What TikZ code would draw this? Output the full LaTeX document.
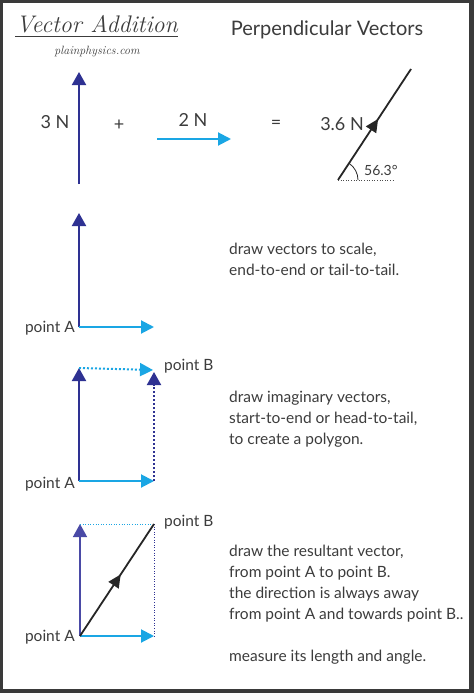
\documentclass[tikz,border=0pt]{standalone}
\usepackage{fontspec}
\setsansfont{Lato}
\usetikzlibrary{arrows.meta,decorations.markings}
\definecolor{vnavy}{HTML}{2E3192}
\definecolor{vnavyl}{HTML}{4A4AA6}
\definecolor{vcyan}{HTML}{1AA6E4}
\definecolor{framegray}{HTML}{3A3A3A}
\definecolor{txt}{HTML}{3C3C3C}

\begin{document}
\begin{tikzpicture}[x=1pt, y=-1pt,
  lab/.style={font=\sffamily\fontsize{15.5}{21}\selectfont, text=txt, inner sep=0pt},
  note/.style={lab, anchor=north west, align=left},
  big/.style={font=\sffamily\fontsize{18}{22}\selectfont, text=txt, inner sep=0pt},
  up/.style={draw=vnavy, line width=2pt, -{Triangle[length=13pt,width=14pt]}},
  rt/.style={draw=vcyan, line width=2pt, -{Triangle[length=13pt,width=13pt]}},
  res/.style={draw=black!85, line width=1.8pt, postaction=decorate,
              decoration={markings, mark=at position 0.55 with {\arrow{Triangle[length=13pt,width=12pt]}}}},
  fine/.style={dotted, line width=0.6pt}]
\useasboundingbox (0,0) rectangle (474,693);
\fill[framegray] (0,0) rectangle (474,693);
\fill[white] (3,3) rectangle (469,689);

\node[font=\rmfamily\itshape\fontsize{24}{26}\selectfont, text=txt, inner sep=0pt] (title) at (97,24) {Vector Addition};
\draw[txt, line width=1pt] (15,37) -- (178,37);
\node[font=\rmfamily\itshape\fontsize{12}{14}\selectfont, text=txt, inner sep=0pt] (site) at (97,52) {plainphysics.com};
\node[big, font=\sffamily\fontsize{20}{23}\selectfont] (head) at (327,30) {Perpendicular Vectors};

\coordinate (n0) at (79,184);
\coordinate (n1) at (79,72);
\coordinate (c0) at (157,139);
\coordinate (c1) at (231,139);
\coordinate (r0) at (338,180);
\coordinate (r1) at (411,69);
\coordinate (r2) at (393,180);
\draw[up] (n0) -- (n1);
\draw[rt] (c0) -- (c1);
\draw[res] (r0) -- (r1);
\draw[fine, black!70] (r0) -- (r2);
\draw[black!85, line width=0.8pt] (r0) ++(20,0) arc[start angle=0, end angle=-56.3, radius=20];
\node[big] (fa) at (55,122) {3 N};
\node[big] (plus) at (119,125) {+};
\node[big] (fb) at (193,120) {2 N};
\node[big] (eq) at (276,124) {=};
\node[big] (fr) at (342,124) {3.6 N};
\node[lab, font=\sffamily\fontsize{14}{16}\selectfont, anchor=west] (ang) at (364,170) {56.3°};

\coordinate (a2) at (79,327);
\coordinate (u2) at (79,213);
\coordinate (h2) at (154,327);
\draw[up] (a2) -- (u2);
\draw[rt] (a2) -- (h2);
\node[lab, anchor=east] (pa2) at (75,328) {point A};
\node[note] (t2) at (229,243) {draw vectors to scale,\\end-to-end or tail-to-tail.};

\coordinate (a3) at (79,481);
\coordinate (u3) at (79,368);
\coordinate (h3) at (154,481);
\coordinate (b3) at (154,372);
\coordinate (d3) at (153,370);
\draw[up] (a3) -- (u3);
\draw[rt] (a3) -- (h3);
\draw[rt, dotted] (u3) -- (d3);
\draw[up, dotted] (h3) -- (b3);
\node[lab, anchor=west] (pb3) at (164,366) {point B};
\node[lab, anchor=east] (pa3) at (75,484) {point A};
\node[note] (t3) at (229,391) {draw imaginary vectors,\\start-to-end or head-to-tail,\\to create a polygon.};

\coordinate (a4) at (80,636);
\coordinate (u4) at (80,524);
\coordinate (h4) at (154,636);
\coordinate (b4) at (154,524);
\draw[up, draw=vnavyl, line width=1.5pt] (a4) -- (u4);
\draw[rt] (a4) -- (h4);
\draw[fine, vcyan] (u4) -- (b4);
\draw[fine, vnavy] (b4) -- (h4);
\draw[res] (a4) -- (b4);
\node[lab, anchor=west] (pb4) at (164,522) {point B};
\node[lab, anchor=east] (pa4) at (75,637) {point A};
\node[note] (t4) at (229,545) {draw the resultant vector,\\from point A to point B.\\the direction is always away\\from point A and towards point B..\\[21pt]measure its length and angle.};
\end{tikzpicture}
\end{document}
